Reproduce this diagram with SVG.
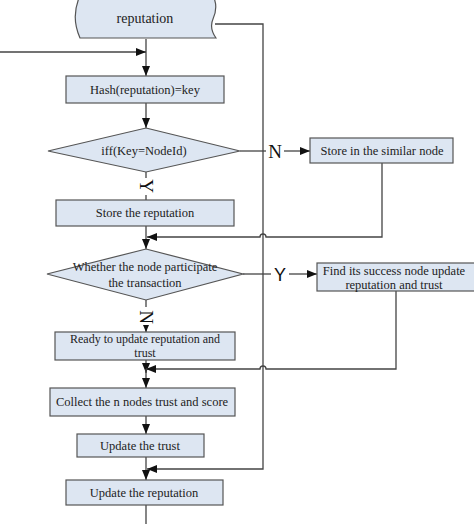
<svg xmlns="http://www.w3.org/2000/svg" width="474" height="524" viewBox="0 0 474 524">
<defs>
<marker id="ah" markerUnits="userSpaceOnUse" markerWidth="10" markerHeight="8" refX="10" refY="4" orient="auto">
<path d="M0,0 L10,4 L0,8 Z" fill="#111"/>
</marker>
<marker id="ahs" markerUnits="userSpaceOnUse" markerWidth="7" markerHeight="6" refX="7" refY="3" orient="auto">
<path d="M0,0 L7,3 L0,6 Z" fill="#111"/>
</marker>
<style>
.box{fill:#dde6f2;stroke:#555;stroke-width:1.2}
.t{font-family:"Liberation Serif","Times New Roman",serif;font-size:12.5px;fill:#222;text-anchor:middle}
.lbl{font-family:"Liberation Serif","Times New Roman",serif;font-size:19px;fill:#111;text-anchor:middle}
.c{fill:none;stroke:#444;stroke-width:1.3}
.ca{fill:none;stroke:#444;stroke-width:1.3;marker-end:url(#ah)}
.cs{fill:none;stroke:#444;stroke-width:1.3;marker-end:url(#ahs)}
</style>
</defs>
<g id="connectors">
<path class="ca" d="M146,39 V76"/>
<path class="ca" d="M0,52 H146"/>
<path class="ca" d="M146,103 V128"/>
<path class="ca" d="M215,24 H263 V469 H147"/>
<path class="c" d="M240,151 H266"/>
<path class="ca" d="M284,151 H310"/>
<path class="c" d="M146,172 V178"/>
<path class="c" d="M146,195 V200"/>
<path class="ca" d="M146,226 V249"/>
<path class="ca" d="M382,163 V237 H266 A3,3 0 0 0 260,237 H147"/>
<path class="c" d="M243,274 H271"/>
<path class="ca" d="M289,274 H317"/>
<path class="c" d="M146,300 V307"/>
<path class="cs" d="M146,326 V332"/>
<path class="ca" d="M146,360 V373"/>
<path class="ca" d="M396,290 V369 H266 A3,3 0 0 0 260,369 H146"/>
<path class="ca" d="M146,369 V388"/>
<path class="ca" d="M146,416 V434"/>
<path class="ca" d="M146,457 V480"/>
<path class="c" d="M146,505 V524"/>
<text class="lbl" x="275" y="158">N</text>
<text class="lbl" transform="translate(146,186) rotate(90)" y="6">Y</text>
<text class="lbl" x="280" y="281" style="font-family:'Liberation Sans',Arial,sans-serif;font-size:18px">Y</text>
<text class="lbl" transform="translate(146,317) rotate(90)" y="6">N</text>
</g>
<g id="reputation">
<path class="box" d="M79,-2 Q71,18 80,38 L216,38 Q209,28 213,19 Q218,8 214,-2 Z"/>
<text class="t" x="145" y="23" style="font-size:14px">reputation</text>
</g>
<g id="hash">
<rect class="box" x="66" y="76" width="158" height="27"/>
<text class="t" x="145" y="94">Hash(reputation)=key</text>
</g>
<g id="decision1">
<path class="box" d="M146,128 L240,151 L146,172 L48,151 Z"/>
<text class="t" x="144" y="155">iff(Key=NodeId)</text>
</g>
<g id="similar">
<rect class="box" x="310" y="138" width="143" height="25"/>
<text class="t" x="382" y="155">Store in the similar node</text>
</g>
<g id="store">
<rect class="box" x="56" y="200" width="178" height="26"/>
<text class="t" x="145" y="217">Store the reputation</text>
</g>
<g id="decision2">
<path class="box" d="M146,249 L243,274 L146,300 L47,274 Z"/>
<text class="t" x="145" y="271">Whether the node participate</text>
<text class="t" x="145" y="287">the transaction</text>
</g>
<g id="find">
<rect class="box" x="317" y="263" width="160" height="28"/>
<text class="t" x="394" y="275">Find its success node update</text>
<text class="t" x="394" y="289">reputation and trust</text>
</g>
<g id="ready">
<rect class="box" x="55" y="332" width="180" height="28"/>
<text class="t" x="145" y="343" style="font-size:12px">Ready to update reputation and</text>
<text class="t" x="145" y="357" style="font-size:12px">trust</text>
</g>
<g id="collect">
<rect class="box" x="50" y="388" width="185" height="28"/>
<text class="t" x="142" y="406">Collect the n nodes trust and score</text>
</g>
<g id="updtrust">
<rect class="box" x="77" y="434" width="127" height="23"/>
<text class="t" x="140" y="450">Update the trust</text>
</g>
<g id="updrep">
<rect class="box" x="66" y="480" width="157" height="25"/>
<text class="t" x="144" y="497">Update the reputation</text>
</g>
</svg>
